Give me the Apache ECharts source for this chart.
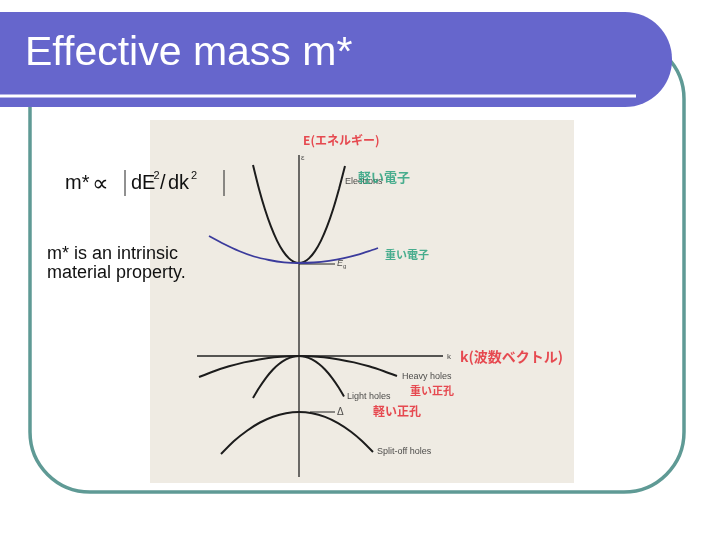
<!DOCTYPE html>
<html>
<head>
<meta charset="utf-8">
<script src="https://cdn.jsdelivr.net/npm/echarts@6/dist/echarts.min.js"></script>
<style>html,body{margin:0;padding:0;background:#fff}#c{width:720px;height:540px}</style>
</head>
<body>
<div id="c"></div>
<script>
// ---- data (k, E) ----
const kAxisLine = [[-1.02, 0], [1.44, 0]];
const eAxisLine = [[0, 2.01], [0, -1.21]];
const lightElectron = [[-0.46, 1.91], [-0.40, 1.67], [-0.34, 1.465], [-0.28, 1.293], [-0.22, 1.154], [-0.16, 1.049], [-0.10, 0.976], [-0.05, 0.942], [0, 0.93],
  [0.05, 0.942], [0.10, 0.976], [0.16, 1.049], [0.22, 1.154], [0.28, 1.293], [0.34, 1.465], [0.40, 1.67], [0.46, 1.90]];
const heavyElectron = [[-0.90, 1.20], [-0.75, 1.12], [-0.60, 1.05], [-0.45, 0.995], [-0.30, 0.96], [-0.15, 0.937], [0, 0.93],
  [0.15, 0.935], [0.30, 0.952], [0.45, 0.979], [0.60, 1.016], [0.70, 1.048], [0.79, 1.08]];
const egLeader = [[0, 0.92], [0.36, 0.92]];
const heavyHole = [[-1.0, -0.21], [-0.85, -0.152], [-0.7, -0.103], [-0.55, -0.064], [-0.4, -0.034], [-0.25, -0.013], [-0.1, -0.002], [0, 0],
  [0.1, -0.002], [0.25, -0.013], [0.4, -0.034], [0.55, -0.064], [0.7, -0.103], [0.85, -0.152], [0.98, -0.20]];
const lightHole = [[-0.46, -0.42], [-0.40, -0.32], [-0.33, -0.218], [-0.26, -0.135], [-0.20, -0.08], [-0.13, -0.034], [-0.06, -0.007], [0, 0],
  [0.06, -0.007], [0.13, -0.034], [0.20, -0.08], [0.26, -0.135], [0.33, -0.218], [0.40, -0.32], [0.45, -0.405]];
const splitOff = [[-0.78, -0.98], [-0.65, -0.85], [-0.52, -0.747], [-0.39, -0.665], [-0.26, -0.607], [-0.13, -0.572], [0, -0.56],
  [0.13, -0.572], [0.26, -0.609], [0.39, -0.671], [0.52, -0.757], [0.63, -0.85], [0.74, -0.96]];
const deltaLeader = [[0.11, -0.56], [0.36, -0.56]];

const blackLabels = ['Electrons', 'Heavy holes', 'Light holes', 'Split-off holes', 'Δ', 'k', 'ε', 'Eg'];
const blackLabelAt = [[0.46, 1.74], [1.03, -0.21], [0.48, -0.41], [0.78, -0.96], [0.38, -0.56], [1.48, -0.01], [0.02, 1.98], [0.38, 0.925]];
const redLabels = ['E(エネルギー)', 'k(波数ベクトル)', '重い正孔', '軽い正孔'];
const redLabelAt = [[0.04, 2.16], [1.61, -0.01], [1.11, -0.35], [0.74, -0.55]];
const redLabelSize = [12, 14, 11, 12];
const greenLabels = ['軽い電子', '重い電子'];
const greenLabelAt = [[0.59, 1.79], [0.86, 1.01]];
const greenLabelSize = [13, 11];

const titleText = 'Effective mass m*';
const bodyLines = ['m* is an intrinsic', 'material property.'];

const chart = echarts.init(document.getElementById('c'), null, {renderer: 'canvas'});
const sans = '"Liberation Sans", Arial, sans-serif';
const cjk = '"Noto Sans CJK JP", sans-serif';

function curve(name, data, color, w) {
  return {name, type: 'line', data, smooth: 0.2, symbol: 'none', silent: true,
    lineStyle: {color, width: w}, z: 3};
}
function straight(name, data, w) {
  return {name, type: 'line', data, smooth: false, symbol: 'none', silent: true,
    lineStyle: {color: '#222', width: w}, z: 2};
}
function labels(name, texts, at, color, sizes, font, weight) {
  return {
    name, type: 'scatter', symbolSize: 0, silent: true, z: 5,
    data: texts.map((t, i) => ({value: at[i], name: t,
      label: {fontSize: Array.isArray(sizes) ? sizes[i] : sizes}})),
    label: {show: true, position: 'right', distance: 0, color, fontFamily: font, fontWeight: weight,
      formatter: p => p.name === 'Eg' ? '{e|E}{g|g}' : p.name,
      rich: {e: {fontSize: 9, fontStyle: 'italic', fontFamily: sans, color: '#222'},
             g: {fontSize: 6, fontFamily: sans, color: '#222', padding: [6, 0, 0, 0]}}}
  };
}

const blackSizes = blackLabels.map(t => (t === 'ε' || t === 'k') ? 8 : (t === 'Δ' ? 10 : 9));

function txt(x, y, text, font) {
  return {type: 'text', z: 3, x, y, style: {text, fill: '#111', font, verticalAlign: 'middle'}};
}

const option = {
  animation: false,
  backgroundColor: '#ffffff',
  grid: {left: 150, top: 120, width: 424, height: 363, show: true, backgroundColor: '#efebe3', borderWidth: 0},
  xAxis: {type: 'value', min: -1.49, max: 2.75, show: false},
  yAxis: {type: 'value', min: -1.27, max: 2.36, show: false},
  series: [
    straight('kAxis', kAxisLine, 1.3),
    straight('eAxis', eAxisLine, 1.3),
    curve('lightElectron', lightElectron, '#1c1c1c', 2),
    curve('heavyElectron', heavyElectron, '#3b3b9c', 1.8),
    straight('egLeader', egLeader, 1),
    curve('heavyHole', heavyHole, '#1c1c1c', 2),
    curve('lightHole', lightHole, '#1c1c1c', 2),
    curve('splitOff', splitOff, '#1c1c1c', 2),
    straight('deltaLeader', deltaLeader, 1),
    labels('blackLabels', blackLabels, blackLabelAt, '#222', blackSizes, sans, 'normal'),
    labels('redLabels', redLabels, redLabelAt, '#e3202a', redLabelSize, cjk, 'bold'),
    labels('greenLabels', greenLabels, greenLabelAt, '#1e9e78', greenLabelSize, cjk, 'bold')
  ],
  graphic: [
    {type: 'rect', z: 0, shape: {x: 30, y: 39, width: 654, height: 453, r: 60},
      style: {fill: 'none', stroke: '#5f9a95', lineWidth: 3.5}},
    {type: 'rect', z: 1, shape: {x: -20, y: 12, width: 692, height: 95, r: [0, 47, 47, 0]},
      style: {fill: '#6666cc'}},
    {type: 'rect', z: 2, shape: {x: 0, y: 94.5, width: 636, height: 3}, style: {fill: '#ffffff'}},
    {type: 'text', z: 3, x: 25, y: 54, style: {text: titleText, fill: '#ffffff', font: '41px ' + sans, verticalAlign: 'middle'}},
    // formula m* ∝ | dE²/dk² |
    txt(65, 183, 'm*', '20px ' + sans),
    txt(92, 185, '∝', '23px "DejaVu Sans", sans-serif'),
    {type: 'line', z: 3, shape: {x1: 125, y1: 170, x2: 125, y2: 196}, style: {stroke: '#222', lineWidth: 1}},
    txt(131, 183, 'dE', '20px ' + sans),
    txt(153.5, 176, '2', '11px ' + sans),
    txt(160, 183, '/', '20px ' + sans),
    txt(168, 183, 'dk', '20px ' + sans),
    txt(191, 176, '2', '11px ' + sans),
    {type: 'line', z: 3, shape: {x1: 224, y1: 170, x2: 224, y2: 196}, style: {stroke: '#222', lineWidth: 1}},
    // body text
    txt(47, 254, bodyLines[0], '18px ' + sans),
    txt(47, 273, bodyLines[1], '18px ' + sans)
  ]
};
chart.setOption(option);
</script>
</body>
</html>
